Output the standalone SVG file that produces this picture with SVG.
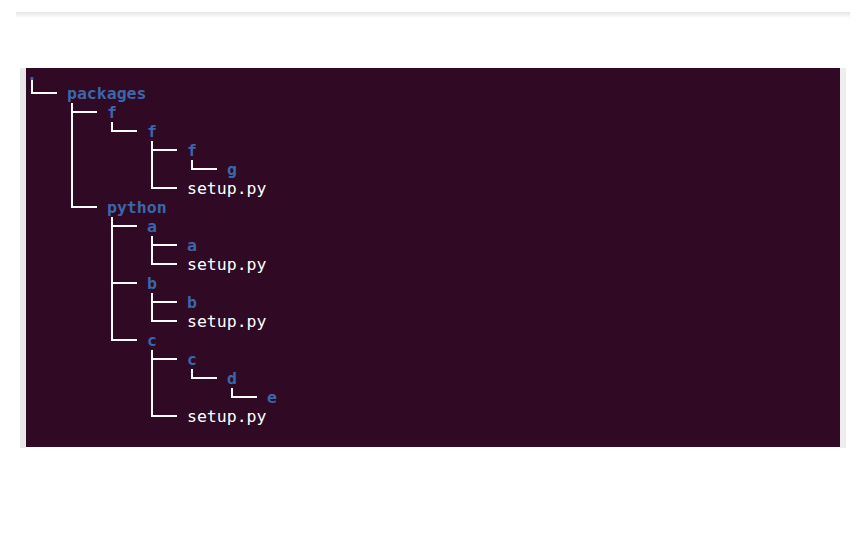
<svg xmlns="http://www.w3.org/2000/svg" width="866" height="551" viewBox="0 0 866 551">
<defs>
<style>
.d{fill:#3a67ab;font-weight:bold}
.f{fill:#ffffff}
text{font-family:"DejaVu Sans Mono",monospace;font-size:16.5px}
#connectors path{stroke:#ffffff;stroke-width:2;fill:none}
</style>
<linearGradient id="sh" x1="0" y1="0" x2="0" y2="1"><stop offset="0" stop-color="#e4e4e4"/><stop offset="1" stop-color="#ffffff"/></linearGradient>
</defs>
<rect width="866" height="551" fill="#ffffff"/>
<rect x="16" y="12" width="834" height="6" fill="url(#sh)"/>
<rect x="20" y="68" width="6" height="380" fill="#e8e8e8"/>
<rect x="840" y="68" width="6" height="380" fill="#eeeeee"/>
<rect x="26" y="68" width="814" height="379" fill="#300a24"/>
<g id="connectors">
<path d="M32 80V93H57"/>
<path d="M72 103V207H97M72 112H97"/>
<path d="M112 122V131H137"/>
<path d="M152 141V188H177M152 150H177"/>
<path d="M192 160V169H217"/>
<path d="M112 217V340H137M112 226H137M112 283H137"/>
<path d="M152 236V264H177M152 245H177"/>
<path d="M152 293V321H177M152 302H177"/>
<path d="M152 350V416H177M152 359H177"/>
<path d="M192 369V378H217"/>
<path d="M232 388V397H257"/>
</g>
<g id="n-root"><text class="d" x="27" y="80">.</text></g>
<g id="n-packages"><text class="d" x="67" y="99">packages</text></g>
<g id="n-f1"><text class="d" x="107" y="118">f</text></g>
<g id="n-f2"><text class="d" x="147" y="137">f</text></g>
<g id="n-f3"><text class="d" x="187" y="156">f</text></g>
<g id="n-g"><text class="d" x="227" y="175">g</text></g>
<g id="n-setup1"><text class="f" x="187" y="194">setup.py</text></g>
<g id="n-python"><text class="d" x="107" y="213">python</text></g>
<g id="n-a1"><text class="d" x="147" y="232">a</text></g>
<g id="n-a2"><text class="d" x="187" y="251">a</text></g>
<g id="n-setup2"><text class="f" x="187" y="270">setup.py</text></g>
<g id="n-b1"><text class="d" x="147" y="289">b</text></g>
<g id="n-b2"><text class="d" x="187" y="308">b</text></g>
<g id="n-setup3"><text class="f" x="187" y="327">setup.py</text></g>
<g id="n-c1"><text class="d" x="147" y="346">c</text></g>
<g id="n-c2"><text class="d" x="187" y="365">c</text></g>
<g id="n-d"><text class="d" x="227" y="384">d</text></g>
<g id="n-e"><text class="d" x="267" y="403">e</text></g>
<g id="n-setup4"><text class="f" x="187" y="422">setup.py</text></g>
</svg>
